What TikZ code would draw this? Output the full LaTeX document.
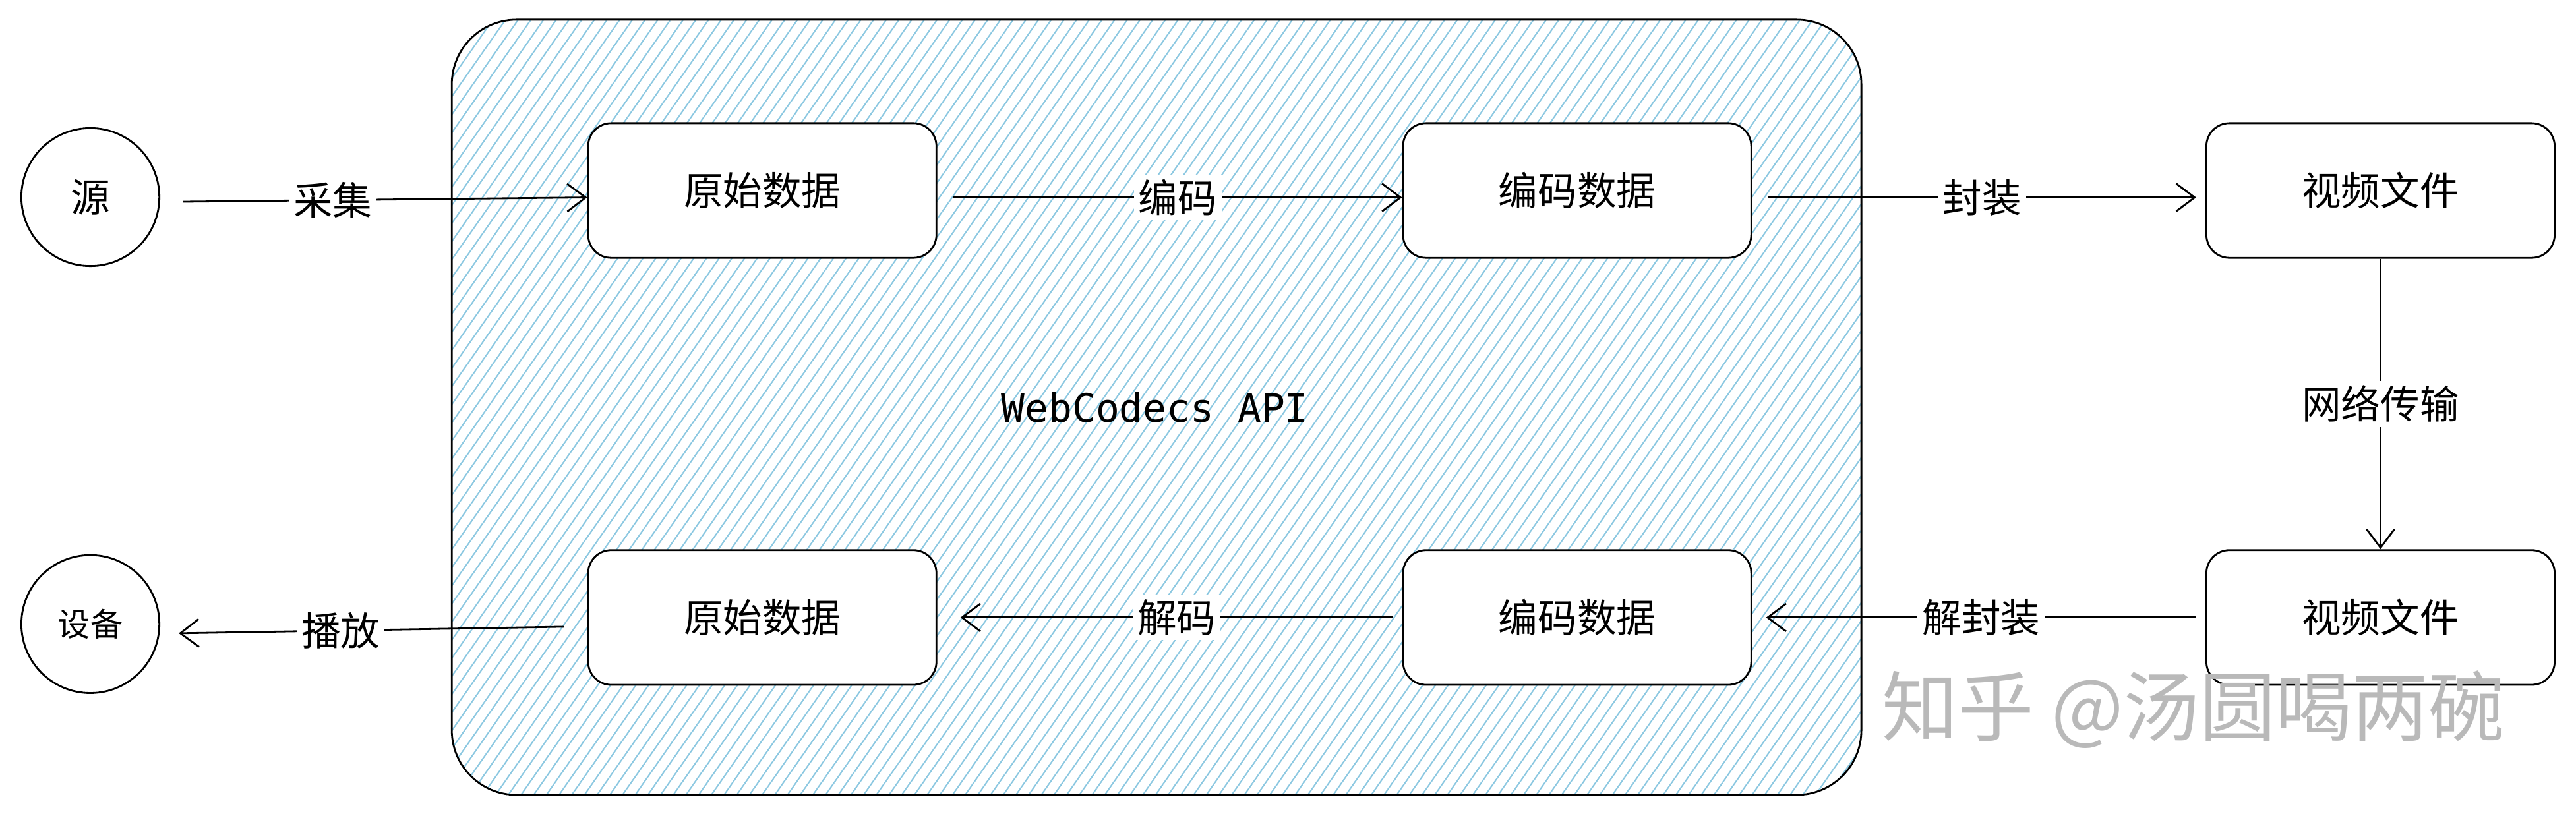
\documentclass[tikz,border=0pt]{standalone}
\usepackage{fontspec}
\setmainfont{Noto Sans CJK SC}
\setmonofont{DejaVu Sans Mono}
\usetikzlibrary{patterns.meta,arrows.meta}
\definecolor{hatch}{RGB}{140,200,225}
\begin{document}
\begin{tikzpicture}[x=0.025cm,y=-0.025cm,
  box/.style={draw,thick,rounded corners=10pt,minimum width=212*0.025cm,minimum height=82*0.025cm,font=\fontsize{17}{20}\selectfont,fill=white},
  circ/.style={draw,thick,circle,minimum size=84*0.025cm,inner sep=0pt},
  arr/.style={-{Straight Barb[length=8pt,width=12pt]},thick},
  lbl/.style={fill=white,inner sep=2pt,font=\fontsize{17}{20}\selectfont}]
\useasboundingbox (0,0) rectangle (1568,495.6);
\fill[white] (0,0) rectangle (1568,495.6);
\draw[thick,rounded corners=28pt,pattern={Lines[angle=55,distance=4.5pt,line width=0.6pt]},pattern color=hatch] (275,12) rectangle (1133,484);
\node[font=\ttfamily\fontsize{17}{20}\selectfont] (api) at (703,248) {WebCodecs API};
\node[circ,font=\fontsize{17}{20}\selectfont] (src) at (55,120) {源};
\node[circ,font=\fontsize{14}{16}\selectfont] (dev) at (55,380) {设备};
\node[box] (r1) at (464,116) {原始数据};
\node[box] (e1) at (960,116) {编码数据};
\node[box] (v1) at (1449,116) {视频文件};
\node[box] (r2) at (464,376) {原始数据};
\node[box] (e2) at (960,376) {编码数据};
\node[box] (v2) at (1449,376) {视频文件};
\draw[arr] ([xshift=10pt,yshift=-2pt]src.east) -- ([yshift=-3pt]r1.west) node[lbl,pos=0.37]{采集};
\draw[arr] ([xshift=7pt,yshift=-3pt]r1.east) -- ([yshift=-3pt]e1.west) node[lbl,midway]{编码};
\draw[arr] ([xshift=7pt,yshift=-3pt]e1.east) -- ([xshift=-4pt,yshift=-3pt]v1.west) node[lbl,midway]{封装};
\draw[arr] (v1.south) -- (v2.north) node[lbl,midway]{网络传输};
\draw[arr] ([xshift=-4pt]v2.west) -- ([xshift=6pt]e2.east) node[lbl,midway]{解封装};
\draw[arr] ([xshift=-4pt]e2.west) -- ([xshift=10pt]r2.east) node[lbl,midway]{解码};
\draw[arr] ([xshift=-10pt,yshift=-4pt]r2.west) -- ([xshift=8pt,yshift=-4pt]dev.east) node[lbl,pos=0.58]{播放};
\node[text=gray!55,font=\fontsize{33}{36}\selectfont] (wm) at (1335,432) {知乎 @汤圆喝两碗};
\end{tikzpicture}
\end{document}
